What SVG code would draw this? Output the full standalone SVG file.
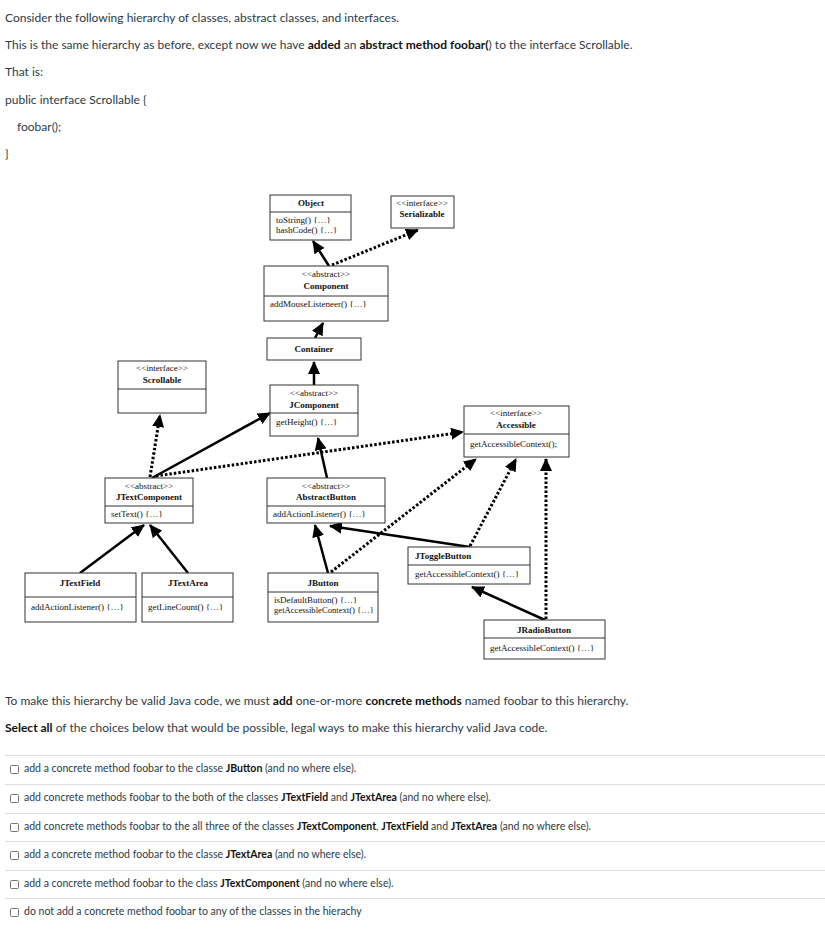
<svg xmlns="http://www.w3.org/2000/svg" width="825" height="941" viewBox="0 0 825 941">
<style>
.t{font-family:Lato,"Liberation Sans",sans-serif;font-size:12px;fill:#2d3b45}
.o{font-size:10.5px}
.b{font-weight:bold;fill:#111}
.box{fill:#fff;stroke:#333;stroke-width:1}
.dv{stroke:#333;stroke-width:1}
.u{font-family:"Liberation Serif",serif;font-size:9px;fill:#111}
.ut{font-family:"Liberation Serif",serif;font-size:9px;font-weight:bold;fill:#111}
.c{text-anchor:middle}
.sol{stroke:#000;stroke-width:2.5;fill:none;marker-end:url(#ah)}
.dot{stroke:#000;stroke-width:3;stroke-dasharray:2.5 2;fill:none;marker-end:url(#ah)}
.sep{stroke:#ddd;stroke-width:1}
.cb{fill:#fff;stroke:#777;stroke-width:1}
</style>
<defs>
<marker id="ah" markerUnits="userSpaceOnUse" markerWidth="14" markerHeight="12" refX="12" refY="6" orient="auto">
<path d="M0,0 L13,6 L0,12 z" fill="#000"/>
</marker>
</defs>
<rect width="825" height="941" fill="#fff"/>
<g id="intro">
<text class="t" x="5" y="22">Consider the following hierarchy of classes, abstract classes, and interfaces.</text>
<text class="t" x="5" y="49">This is the same hierarchy as before, except now we have <tspan class="b">added</tspan> an <tspan class="b">abstract method foobar(</tspan>) to the interface Scrollable.</text>
<text class="t" x="5" y="76">That is:</text>
<text class="t" x="5" y="104">public interface Scrollable {</text>
<text class="t" x="17" y="131">foobar();</text>
<text class="t" x="5" y="158">}</text>
</g>
<g id="connectors">
<line class="sol" x1="329" y1="266" x2="313" y2="241"/>
<line class="dot" x1="332" y1="265" x2="418" y2="230"/>
<line class="sol" x1="315" y1="338" x2="323" y2="323"/>
<line class="sol" x1="314" y1="385" x2="314" y2="362"/>
<line class="dot" x1="150" y1="477" x2="160" y2="415"/>
<line class="sol" x1="152" y1="478" x2="270" y2="413"/>
<line class="dot" x1="156" y1="476" x2="463" y2="432"/>
<line class="sol" x1="327" y1="478" x2="318" y2="438"/>
<line class="sol" x1="80" y1="573" x2="144" y2="525"/>
<line class="sol" x1="188" y1="573" x2="150" y2="525"/>
<line class="sol" x1="328" y1="573" x2="315" y2="525"/>
<line class="dot" x1="331" y1="572" x2="476" y2="459"/>
<line class="sol" x1="470" y1="547" x2="330" y2="526"/>
<line class="dot" x1="470" y1="546" x2="516" y2="459"/>
<line class="sol" x1="545" y1="620" x2="472" y2="587"/>
<line class="dot" x1="546" y1="619" x2="546" y2="459"/>
</g>
<g id="Object">
<rect class="box" x="270" y="195" width="81" height="45"/>
<line class="dv" x1="270" y1="212" x2="351" y2="212"/>
<text class="ut c" x="311" y="206">Object</text>
<text class="u" x="276" y="223">toString() {…}</text>
<text class="u" x="276" y="233">hashCode() {…}</text>
</g>
<g id="Serializable">
<rect class="box" x="391" y="196" width="63" height="32"/>
<text class="u c" x="422" y="206">&lt;&lt;interface&gt;&gt;</text>
<text class="ut c" x="422" y="217">Serializable</text>
</g>
<g id="Component">
<rect class="box" x="264" y="266" width="124" height="55"/>
<line class="dv" x1="264" y1="296" x2="388" y2="296"/>
<text class="u c" x="326" y="277">&lt;&lt;abstract&gt;&gt;</text>
<text class="ut c" x="326" y="289">Component</text>
<text class="u" x="270" y="307">addMouseListeneer() {…}</text>
</g>
<g id="Container">
<rect class="box" x="267" y="338" width="94" height="22"/>
<text class="ut c" x="314" y="352">Container</text>
</g>
<g id="Scrollable">
<rect class="box" x="118" y="361" width="88" height="52"/>
<line class="dv" x1="118" y1="389" x2="206" y2="389"/>
<text class="u c" x="162" y="371">&lt;&lt;interface&gt;&gt;</text>
<text class="ut c" x="162" y="383">Scrollable</text>
</g>
<g id="JComponent">
<rect class="box" x="270" y="385" width="88" height="51"/>
<line class="dv" x1="270" y1="413" x2="358" y2="413"/>
<text class="u c" x="314" y="396">&lt;&lt;abstract&gt;&gt;</text>
<text class="ut c" x="314" y="408">JComponent</text>
<text class="u" x="276" y="425">getHeight() {…}</text>
</g>
<g id="Accessible">
<rect class="box" x="464" y="406" width="105" height="51"/>
<line class="dv" x1="464" y1="434" x2="569" y2="434"/>
<text class="u c" x="516" y="416">&lt;&lt;interface&gt;&gt;</text>
<text class="ut c" x="516" y="428">Accessible</text>
<text class="u" x="470" y="447">getAccessibleContext();</text>
</g>
<g id="JTextComponent">
<rect class="box" x="105" y="478" width="88" height="45"/>
<line class="dv" x1="105" y1="506" x2="193" y2="506"/>
<text class="u c" x="149" y="489">&lt;&lt;abstract&gt;&gt;</text>
<text class="ut c" x="149" y="500">JTextComponent</text>
<text class="u" x="111" y="517">setText() {…}</text>
</g>
<g id="AbstractButton">
<rect class="box" x="267" y="478" width="118" height="45"/>
<line class="dv" x1="267" y1="506" x2="385" y2="506"/>
<text class="u c" x="326" y="489">&lt;&lt;abstract&gt;&gt;</text>
<text class="ut c" x="326" y="500">AbstractButton</text>
<text class="u" x="273" y="517">addActionListener() {…}</text>
</g>
<g id="JToggleButton">
<rect class="box" x="408" y="547" width="122" height="37"/>
<line class="dv" x1="408" y1="565" x2="530" y2="565"/>
<text class="ut" x="415" y="559">JToggleButton</text>
<text class="u" x="415" y="577">getAccessibleContext() {…}</text>
</g>
<g id="JTextField">
<rect class="box" x="25" y="573" width="111" height="49"/>
<line class="dv" x1="25" y1="597" x2="136" y2="597"/>
<text class="ut c" x="80" y="586">JTextField</text>
<text class="u" x="31" y="610">addActionListener() {…}</text>
</g>
<g id="JTextArea">
<rect class="box" x="142" y="573" width="91" height="49"/>
<line class="dv" x1="142" y1="597" x2="233" y2="597"/>
<text class="ut c" x="188" y="586">JTextArea</text>
<text class="u" x="148" y="610">getLineCount() {…}</text>
</g>
<g id="JButton">
<rect class="box" x="268" y="573" width="110" height="49"/>
<line class="dv" x1="268" y1="592" x2="378" y2="592"/>
<text class="ut c" x="323" y="586">JButton</text>
<text class="u" x="274" y="603">isDefaultButton() {…}</text>
<text class="u" x="274" y="613" textLength="100" lengthAdjust="spacingAndGlyphs">getAccessibleContext() {…}</text>
</g>
<g id="JRadioButton">
<rect class="box" x="484" y="620" width="121" height="39"/>
<line class="dv" x1="484" y1="638" x2="605" y2="638"/>
<text class="ut c" x="544" y="633">JRadioButton</text>
<text class="u" x="490" y="651">getAccessibleContext() {…}</text>
</g>
<g id="question">
<text class="t" x="5" y="705">To make this hierarchy be valid Java code, we must <tspan class="b">add</tspan> one-or-more <tspan class="b">concrete methods</tspan> named foobar to this hierarchy.</text>
<text class="t" x="5" y="732"><tspan class="b">Select all</tspan> of the choices below that would be possible, legal ways to make this hierarchy valid Java code.</text>
</g>
<g id="options">
<line class="sep" x1="5" y1="755.5" x2="825" y2="755.5"/>
<line class="sep" x1="5" y1="784.5" x2="825" y2="784.5"/>
<line class="sep" x1="5" y1="813.5" x2="825" y2="813.5"/>
<line class="sep" x1="5" y1="841.5" x2="825" y2="841.5"/>
<line class="sep" x1="5" y1="870.5" x2="825" y2="870.5"/>
<line class="sep" x1="5" y1="898.5" x2="825" y2="898.5"/>
<rect class="cb" x="10.5" y="765.5" width="8" height="8" rx="1"/>
<rect class="cb" x="10.5" y="794.5" width="8" height="8" rx="1"/>
<rect class="cb" x="10.5" y="823.5" width="8" height="8" rx="1"/>
<rect class="cb" x="10.5" y="851.5" width="8" height="8" rx="1"/>
<rect class="cb" x="10.5" y="880.5" width="8" height="8" rx="1"/>
<rect class="cb" x="10.5" y="908.5" width="8" height="8" rx="1"/>
<text class="t o" x="24" y="772">add a concrete method foobar to the classe <tspan class="b">JButton</tspan> (and no where else).</text>
<text class="t o" x="24" y="801">add concrete methods foobar to the both of the classes <tspan class="b">JTextField</tspan> and <tspan class="b">JTextArea</tspan> (and no where else).</text>
<text class="t o" x="24" y="830">add concrete methods foobar to the all three of the classes <tspan class="b">JTextComponent</tspan>, <tspan class="b">JTextField</tspan> and <tspan class="b">JTextArea</tspan> (and no where else).</text>
<text class="t o" x="24" y="858">add a concrete method foobar to the classe <tspan class="b">JTextArea</tspan> (and no where else).</text>
<text class="t o" x="24" y="887">add a concrete method foobar to the class <tspan class="b">JTextComponent</tspan> (and no where else).</text>
<text class="t o" x="24" y="915">do not add a concrete method foobar to any of the classes in the hierachy</text>
</g>
</svg>
